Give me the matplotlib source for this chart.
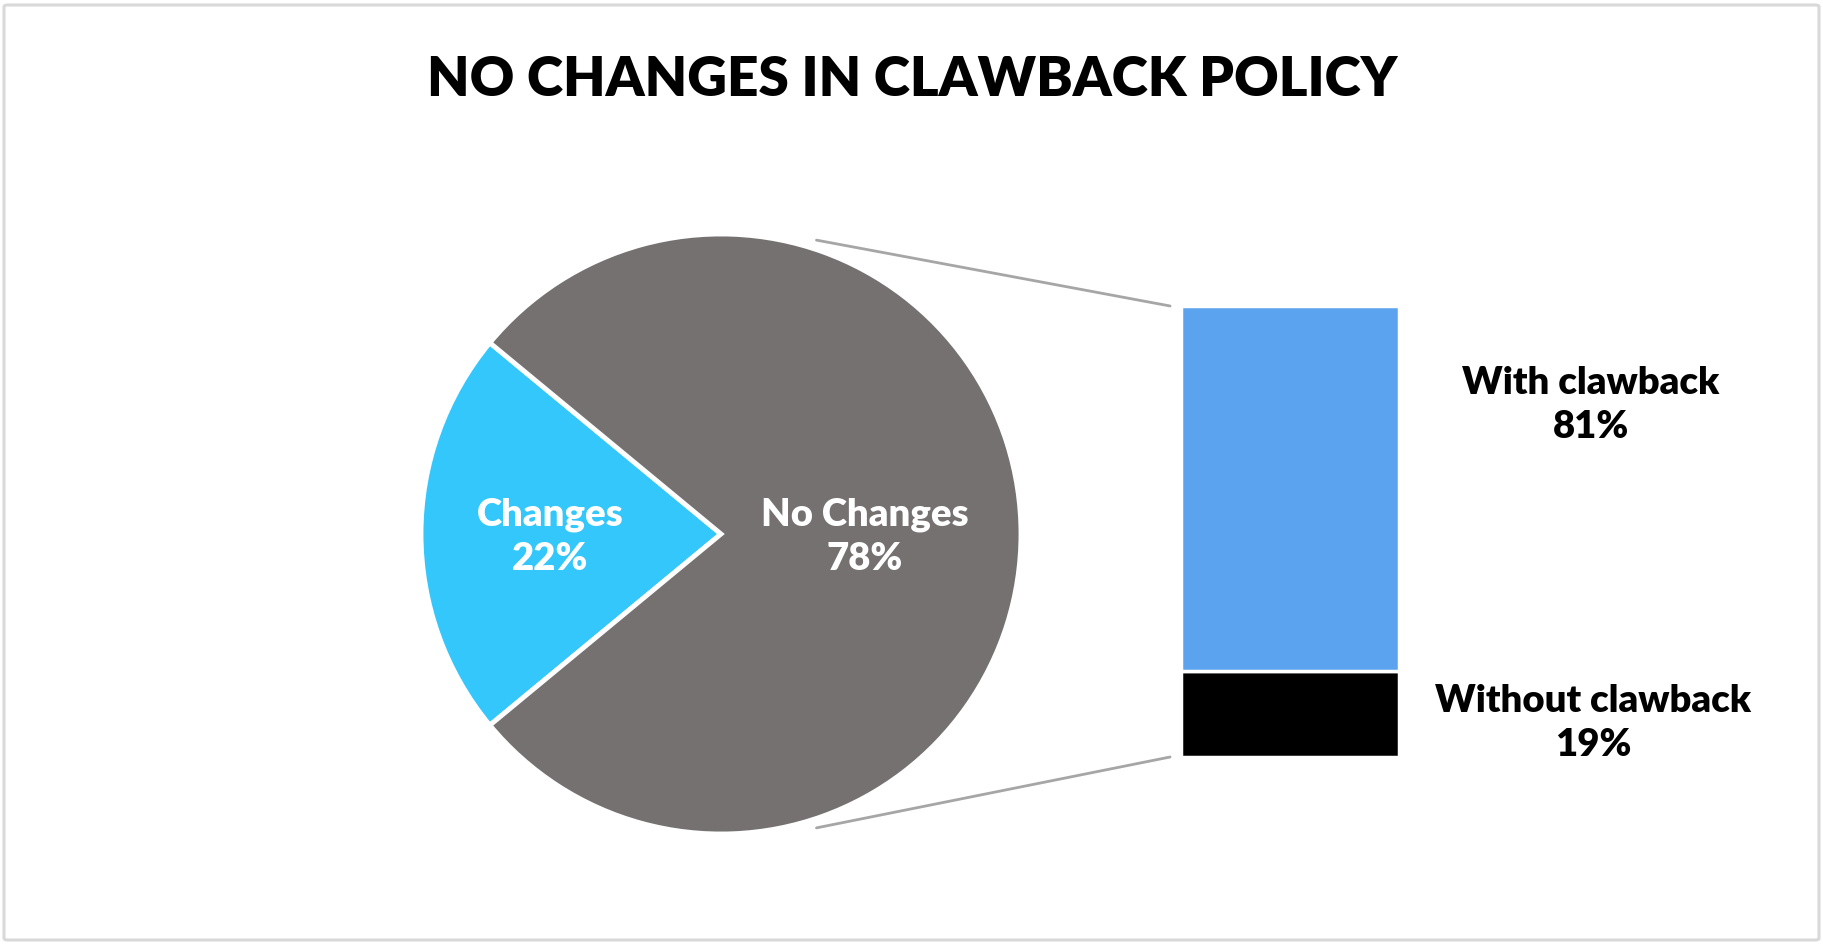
import matplotlib
matplotlib.use("Agg")
import matplotlib.pyplot as plt
import numpy as np
from matplotlib.patches import ConnectionPatch, FancyBboxPatch

plt.rcParams["font.family"] = ["Lato", "DejaVu Sans"]

# data
pie_labels = ["Changes", "No Changes"]
pie_values = [22, 78]
pie_colors = ["#33c7fb", "#767171"]

bar_labels = ["Without clawback", "With clawback"]
bar_values = [19, 81]
bar_colors = ["#000000", "#5ba3ee"]

title = "NO CHANGES IN CLAWBACK POLICY"

W, H = 1824, 944
fig = plt.figure(figsize=(W / 100, H / 100), dpi=100)

# light grey frame round the chart
frame = FancyBboxPatch((4 / W, 4 / H), 1 - 9 / W, 1 - 9 / H,
                       boxstyle="round,pad=0,rounding_size=0.002",
                       transform=fig.transFigure, fill=False,
                       edgecolor="#d9d9d9", linewidth=2.2)
fig.patches.append(frame)

fig.text(0.5, 1 - 80 / H, title, ha="center", va="center",
         fontsize=39.5, fontweight="heavy", color="black")

# pie
ax_pie = fig.add_axes([421 / W, 110 / H, 600 / W, 600 / H])
wedges, _ = ax_pie.pie(pie_values, colors=pie_colors, startangle=180 - pie_values[0] * 3.6 / 2,
                       radius=1, wedgeprops=dict(edgecolor="white", linewidth=3.5))
ax_pie.set_xlim(-1, 1)
ax_pie.set_ylim(-1, 1)
ax_pie.set_aspect("equal")
ax_pie.axis("off")

label_pos = [(-0.57, -0.01), (0.48, -0.01)]
for (lx, ly), name, val in zip(label_pos, pie_labels, pie_values):
    ax_pie.text(lx, ly, f"{name}\n{val}%", ha="center", va="center", color="white",
                fontsize=27.5, fontweight="heavy", linespacing=1.35)

# stacked bar
ax_bar = fig.add_axes([1181 / W, 187 / H, 218 / W, 451 / H])
bottom = 0
for name, val, col in zip(bar_labels, bar_values, bar_colors):
    ax_bar.bar(0, val, bottom=bottom, width=1, color=col, edgecolor="white", linewidth=2.5)
    bottom += val
ax_bar.set_xlim(-0.5, 0.5)
ax_bar.set_ylim(0, sum(bar_values))
ax_bar.axis("off")

tr = ax_bar.get_yaxis_transform()
ax_bar.text(1.88, 78, f"{bar_labels[1]}\n{bar_values[1]}%", transform=tr, ha="center", va="center",
            fontsize=27.5, fontweight="heavy", color="black", linespacing=1.35)
ax_bar.text(1.89, 7.5, f"{bar_labels[0]}\n{bar_values[0]}%", transform=tr, ha="center", va="center",
            fontsize=27.5, fontweight="heavy", color="black", linespacing=1.35)

# connector lines from pie to bar
for ang, yb in [(72, 1.0), (-72, 0.0)]:
    a = np.deg2rad(ang)
    con = ConnectionPatch(xyA=(1.03 * np.cos(a), 1.03 * np.sin(a)), coordsA=ax_pie.transData,
                          xyB=(-0.05, yb), coordsB=ax_bar.transAxes,
                          color="#a6a6a6", linewidth=2)
    fig.add_artist(con)

fig.savefig("out.png", dpi=100)
